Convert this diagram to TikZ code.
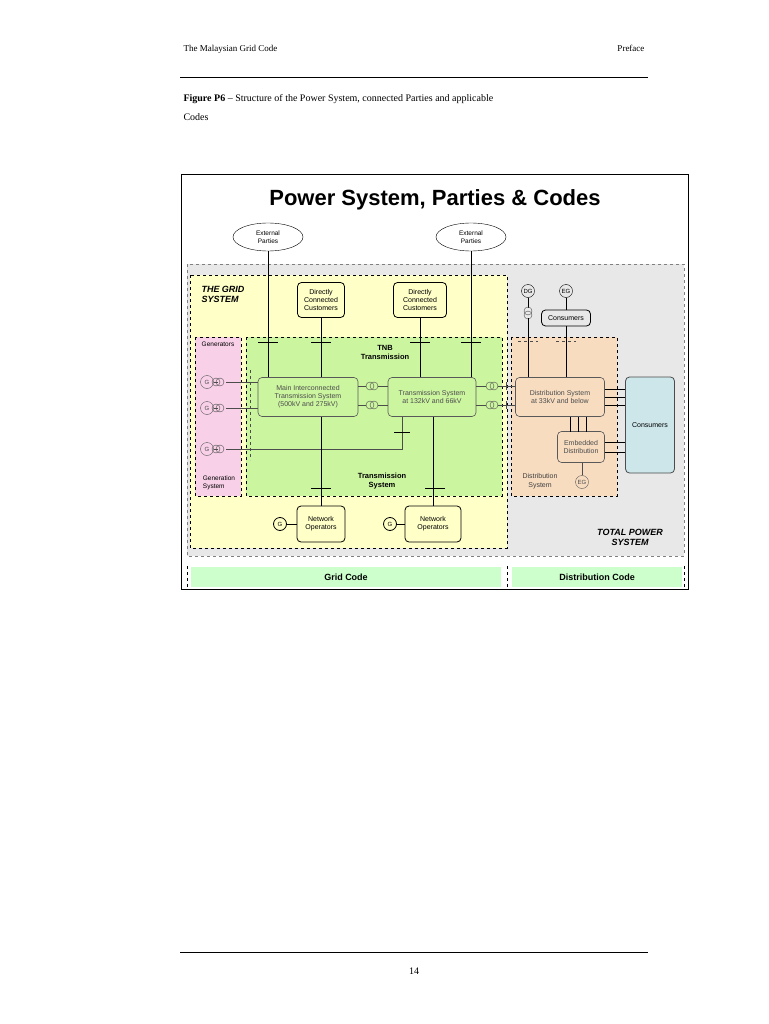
\documentclass[tikz,border=0pt]{standalone}
\usepackage{fontspec}
\setmainfont{Liberation Serif}
\newfontfamily\sff{Liberation Sans}
\usetikzlibrary{shapes.geometric}
\definecolor{ylw}{HTML}{FFFFC8}
\definecolor{grn}{HTML}{CCF5A0}
\definecolor{pnk}{HTML}{F8D0E8}
\definecolor{org}{HTML}{F7DCC0}
\definecolor{gry}{HTML}{E8E8E8}
\definecolor{cyn}{HTML}{CCE6EA}
\definecolor{codeg}{HTML}{CCFFCC}
\begin{document}
\begin{tikzpicture}[x=1pt,y=-1pt,
  area/.style={draw,dashed,line width=0.6pt},
  box/.style={draw,rounded corners=4pt,line width=0.8pt,font=\sff\fontsize{7}{8}\selectfont,align=center,inner sep=1pt},
  gbox/.style={draw=gray!70!black,rounded corners=4pt,line width=0.6pt,font=\sff\fontsize{7}{8}\selectfont,align=center,text=gray!60!black,inner sep=1pt},
  gen/.style={draw,circle,minimum size=13pt,inner sep=0pt,font=\sff\fontsize{6}{7}\selectfont},
  ggen/.style={gen,draw=gray!70!black,text=gray!60!black},
  lbl/.style={font=\sff\bfseries\fontsize{7.5}{9}\selectfont,align=center},
  tick/.style={line width=0.6pt},
  tr/.pic={\draw[gray!60!black] (-2,0) circle(4) (2,0) circle(4);}]
\useasboundingbox (0,0) rectangle (768,1024);
% header
\node[anchor=base west,font=\fontsize{9}{10}\selectfont] at (180,52) {The Malaysian Grid Code};
\node[anchor=base east,font=\fontsize{9}{10}\selectfont] at (648,52) {Preface};
\draw[line width=0.8pt] (180,77) -- (648,77);
\node[anchor=base west,font=\fontsize{10}{11}\selectfont] at (180,102) {\textbf{Figure P6} -- Structure of the Power System, connected Parties and applicable};
\node[anchor=base west,font=\fontsize{10}{11}\selectfont] at (180,121) {Codes};
% footer
\draw[line width=0.8pt] (180,952) -- (648,952);
\node[font=\fontsize{10}{11}\selectfont] at (414,971) {14};
% frame
\draw[line width=0.8pt] (181,174) rectangle (688,589);
\node[font=\sff\bfseries\fontsize{22}{24}\selectfont] (title) at (435,200) {Power System, Parties \& Codes};
% areas
\draw[area,fill=gry,draw=gray] (187,264) rectangle (684,556);
\draw[area,fill=ylw] (190,275) rectangle (507,548);
\draw[area,fill=pnk] (195,337) rectangle (241,496);
\draw[area,fill=grn] (246,337) rectangle (502,496);
\draw[area,fill=org] (511,337) rectangle (617,496);
% codes
\draw[dashed] (187,566) -- (187,588) (507,566)--(507,588) (684,566)--(684,588);
\node[fill=codeg,minimum width=310pt,minimum height=20pt,inner sep=0pt,font=\sff\bfseries\fontsize{9}{10}\selectfont] (gc) at (346,577) {Grid Code};
\node[fill=codeg,minimum width=170pt,minimum height=20pt,inner sep=0pt,font=\sff\bfseries\fontsize{9}{10}\selectfont] (dc) at (597,577) {Distribution Code};
% labels
\node[font=\sff\bfseries\itshape\fontsize{9}{10}\selectfont,align=left] (tgs) at (223,294) {THE GRID\\SYSTEM};
\node[font=\sff\bfseries\itshape\fontsize{9}{10}\selectfont,align=center] (tps) at (630,537) {TOTAL POWER\\SYSTEM};
\node[lbl] (tnb) at (385,352) {TNB\\Transmission};
\node[lbl] (tsy) at (382,481) {Transmission\\System};
\node[font=\sff\fontsize{7}{9}\selectfont,text=gray!50!black,align=center] (dsy) at (540,481) {Distribution\\System};
\node[font=\sff\fontsize{6.5}{7}\selectfont] (gl) at (218,344) {Generators};
\node[font=\sff\fontsize{6.5}{8}\selectfont,align=left] (gsl) at (219,483) {Generation\\System};
% nodes
\node[ellipse,draw,fill=white,minimum width=70pt,minimum height=28pt,inner sep=0pt,font=\sff\fontsize{6.5}{7.5}\selectfont,align=center] (ep1) at (268,237) {External\\Parties};
\node[ellipse,draw,fill=white,minimum width=70pt,minimum height=28pt,inner sep=0pt,font=\sff\fontsize{6.5}{7.5}\selectfont,align=center] (ep2) at (471,237) {External\\Parties};
\node[box,minimum width=47pt,minimum height=35pt] (dcc1) at (321,300) {Directly\\Connected\\Customers};
\node[box,minimum width=53pt,minimum height=35pt] (dcc2) at (420,300) {Directly\\Connected\\Customers};
\node[gbox,minimum width=100pt,minimum height=39pt] (mits) at (308,397) {Main Interconnected\\Transmission System\\(500kV and 275kV)};
\node[gbox,minimum width=88pt,minimum height=39pt] (ts) at (432,397) {Transmission System\\at 132kV and 66kV};
\node[gbox,minimum width=89pt,minimum height=39pt] (ds) at (560,397) {Distribution System\\at 33kV and below};
\node[gbox,minimum width=47pt,minimum height=31pt] (ed) at (581,447) {Embedded\\Distribution};
\node[box,fill=cyn,minimum width=49pt,minimum height=96pt,draw=gray!60!black] (cons) at (650,425) {Consumers};
\node[box,fill=gry,minimum width=49pt,minimum height=16pt] (cs) at (566,318) {Consumers};
\node[gen] (dg) at (528,291) {DG};
\node[gen] (eg1) at (566,291) {EG};
\node[ggen] (eg2) at (582,482) {EG};
\node[box,minimum width=48pt,minimum height=36pt] (no1) at (321,524) {Network\\Operators};
\node[box,minimum width=56pt,minimum height=36pt] (no2) at (433,524) {Network\\Operators};
\node[gen,line width=0.8pt] (g4) at (280,524) {G};
\node[gen,line width=0.8pt] (g5) at (390,524) {G};
\draw (g4) -- (no1); \draw (g5) -- (no2);
\node[ggen] (g1) at (207,382) {G};
\node[ggen] (g2) at (207,408) {G};
\node[ggen] (g3) at (207,449) {G};
% generator connections
\coordinate (b1) at (250,382); \coordinate (b2) at (250,408); \coordinate (b3) at (250,449);
\foreach \g/\b in {g1/b1,g2/b2,g3/b3}{
  \draw[gray!60!black] (\g) -- ++(11,0) pic{tr} ++(8,0) -- (\b);}
\draw[gray!60!black,dashed] (250,370) -- (250,460);
\draw[gray!60!black] (b1) -- (b1-|mits.west) (b2) -- (b2-|mits.west);
\coordinate (tsd) at (402,417);
\coordinate (tsc) at (402,449);
\draw[gray!60!black] (tsd) -- (tsc) -- (b3);
\draw[tick] (394,432) -- (410,432);
% main vertical connectors
\draw (ep1) -- (ep1|-mits.north);
\draw (ep2) -- (ep2|-ts.north);
\draw (dcc1) -- (dcc1|-mits.north);
\draw (dcc2) -- (dcc2|-ts.north);
\draw (no1) -- (no1|-mits.south);
\draw (ts.south-|no2) -- (no2);
\foreach \x in {268,321,420,471}{\draw[tick] (\x-10,342) -- (\x+10,342);}
\foreach \x in {321,435}{\draw[tick] (\x-10,488) -- (\x+10,488);}
% transformers between systems
\foreach \y in {386,405}{
  \draw[gray!60!black] (mits.east|-0,\y) -- (366,\y) (378,\y) -- (ts.west|-0,\y);
  \path (372,\y) pic{tr};
  \draw[gray!60!black] (ts.east|-0,\y) -- (486,\y) (498,\y) -- (ds.west|-0,\y);
  \path (492,\y) pic{tr};
  \draw[gray!60!black] (506,\y-4) -- (506,\y+4);}
% distribution
\draw (dg) -- (528,308); \path (528,313) pic[rotate=90]{tr}; \draw (528,318) -- (ds.north-|528,0);
\draw (eg1) -- (cs);
\draw (cs) -- (ds.north-|566,0);
\draw[gray!60!black,dashed] (518,341) -- (538,341) (556,341) -- (576,341);
\foreach \y in {389,397,405}{\draw (ds.east|-0,\y) -- (cons.west|-0,\y);}
\foreach \y in {442,452}{\draw (ed.east|-0,\y) -- (cons.west|-0,\y);}
\foreach \x in {570,578,586}{\draw (\x,417) -- (\x,431.5);}
\draw[gray!60!black] (eg2) -- (ed.south-|eg2);
\end{tikzpicture}
\end{document}
